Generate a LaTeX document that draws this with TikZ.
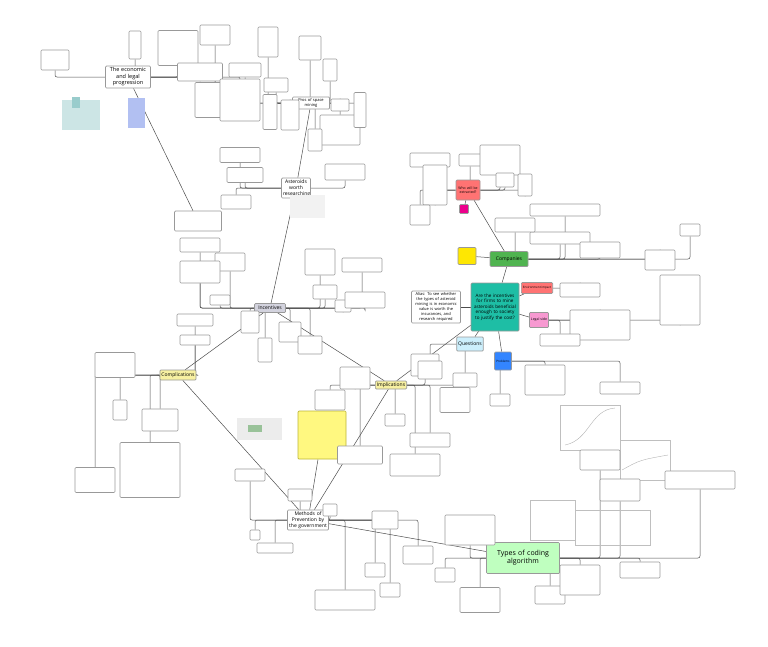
\documentclass[tikz,border=0pt]{standalone}
\usepackage{fontspec}
\setmainfont{Open Sans}
\pgfdeclarelayer{bg}\pgfsetlayers{bg,main}
\begin{document}
\begin{tikzpicture}[x=1pt,y=-1pt,
 box/.style={draw=gray!80,line width=0.6pt,fill=white,rounded corners=1pt,minimum width=#1},
 hub/.style={draw=gray!80,line width=0.7pt,rounded corners=1pt,align=center,inner sep=1.5pt,font=\fontsize{5}{6}\selectfont},
 con/.style={draw=gray!60!black,line width=0.5pt}]
\useasboundingbox (0,0) rectangle (768,646);
\hyphenpenalty=10000
% hubs
\node[hub,fill={rgb,255:red,30;green,190;blue,165},minimum width=48,minimum height=48,text width=45,inner sep=1pt,font=\fontsize{4.6}{5.6}\selectfont] (central) at (495,307) {Are the incentives for firms to mine asteroids beneficial enough to society to justify the cost?};
\node[hub,fill=white,text width=46,font=\fontsize{4}{5}\selectfont] (alias) at (436,307) {Alias: To see whether the types of asteroid mining is in economic value is worth the insurances, and research required};
\node[hub,fill={rgb,255:red,80;green,180;blue,80},minimum width=38,minimum height=15] (comp) at (509,259) {Companies};
\node[hub,fill=yellow!90!orange,minimum width=18,minimum height=17] (sticky) at (467,256) {};
\node[hub,fill=red!55,minimum width=23,minimum height=20,text width=21,font=\fontsize{3.5}{4}\selectfont] (who) at (468,190) {Who will be extracted?};
\node[hub,fill=magenta,minimum width=9,minimum height=9] (mag) at (464,209) {};
\node[hub,fill=red!55,minimum width=21,minimum height=11,font=\fontsize{3}{4}\selectfont] (env) at (537,288) {Environment impact};
\node[hub,fill=magenta!40,minimum width=18,minimum height=15,font=\fontsize{3.5}{4}\selectfont] (legal) at (539,320) {Legal side};
\node[hub,fill=cyan!20,minimum width=24,minimum height=14] (quest) at (470,344) {Questions};
\node[hub,fill=blue!60!cyan!80,minimum width=17,minimum height=18,font=\fontsize{3}{4}\selectfont] (prob) at (503,361) {Problems};
\node[hub,fill=green!25,minimum width=73,minimum height=31,text width=60,font=\fontsize{7}{8}\selectfont] (types) at (523,558) {Types of coding algorithm};
\node[hub,fill=white,minimum width=40,minimum height=16,text width=38] (meth) at (308,520) {Methods of Prevention by the government};
\node[hub,fill=brown!30!yellow!40,minimum width=28,minimum height=8] (impl) at (391,385) {Implications};
\node[hub,fill=brown!30!yellow!40,minimum width=36,minimum height=10] (compl) at (178,375) {Complications};
\node[hub,fill=blue!15!gray!30,minimum width=31,minimum height=9] (inc) at (270,308) {Incentives};
\node[hub,fill=white,minimum width=43,minimum height=22,text width=42,font=\fontsize{5.5}{6.5}\selectfont] (econ) at (128,77) {The economic and legal progression};
\node[hub,fill=white,minimum width=27,minimum height=18,text width=26] (aster) at (296,188) {Asteroids worth researching};
\node[hub,fill=white,minimum width=36,minimum height=12,text width=34,font=\fontsize{4}{5}\selectfont] (pros) at (311,103) {Pros of space mining};
\node[hub,fill=white,minimum width=47,minimum height=20] (nat) at (198,221) {};
\node[hub,fill=yellow!50,draw=yellow!70!black,minimum width=48,minimum height=48] (st2) at (322,435) {};
% images
\fill[teal!40,opacity=0.5] (62,100) rectangle (100,130);
\fill[teal!40] (72,97) rectangle (80,108);
\fill[teal!35!blue!30] (128,98) rectangle (145,128);
\fill[gray!15] (237,418) rectangle (282,440);
\fill[green!40!black!40] (248,425) rectangle (262,432);
\fill[gray!10] (290,195) rectangle (325,218);
\draw[gray!50] (560,405) rectangle (620,450) (620,440) rectangle (670,480) (530,500) rectangle (575,540) (575,510) rectangle (650,545);
\draw[gray!60] (565,445) .. controls (590,440) and (590,410) .. (615,408);
\draw[gray!60] (622,470) .. controls (640,460) .. (668,455);
% connectors hub
\begin{pgfonlayer}{bg}
\foreach \a/\b in {central/alias,central/comp,central/env,central/legal,central/quest,central/prob,comp/sticky,comp/who,who/mag,central/impl,impl/meth,impl/inc,inc/compl,inc/aster,aster/pros,econ/nat,meth/types,meth/st2,compl/meth}
 \draw[con] (\a) -- (\b);
\end{pgfonlayer}
% small boxes: x,y,w,h,parent
\foreach \x/\y/\w/\h/\p in {
135/45/12/28/econ,178/48/40/35/econ,200/72/45/18/econ,215/100/40/35/econ,240/100/40/42/econ,55/60/28/20/econ,
215/35/30/20/pros,268/42/20/30/pros,310/48/22/24/pros,245/70/32/14/pros,276/85/24/14/pros,330/70/14/22/pros,340/105/18/12/pros,
270/112/14/35/pros,290/115/18/30/pros,340/130/40/30/pros,315/140/14/22/pros,360/110/12/35/pros,
240/155/40/15/aster,245/175/36/15/aster,345/172/40/16/aster,236/202/30/14/aster,
200/245/40/14/inc,230/262/30/18/inc,200/272/40/22/inc,320/262/30/26/inc,362/265/40/14/inc,325/292/24/14/inc,
343/306/16/12/inc,365/300/40/16/inc,250/322/18/22/inc,290/332/22/20/inc,265/350/14/24/inc,310/345/24/18/inc,
220/300/20/10/inc,195/320/36/12/compl,195/340/30/10/compl,115/365/40/25/compl,160/420/36/22/compl,120/410/14/20/compl,
95/480/40/25/compl,150/470/60/55/compl,250/475/30/12/meth,300/495/24/12/meth,330/510/14/12/meth,255/535/10/10/meth,
275/548/36/10/meth,385/520/26/18/meth,375/570/20/14/meth,418/555/30/18/meth,345/600/60/20/meth,390/590/20/14/meth,
330/400/30/20/impl,355/378/30/22/impl,395/420/20/12/impl,430/440/40/14/impl,415/465/50/22/impl,455/400/30/25/impl,
425/365/28/22/impl,360/455/45/18/impl,
430/160/40/14/who,435/185/24/40/who,470/160/22/12/who,500/160/40/30/who,505/180/18/14/who,525/185/14/22/who,420/215/20/20/who,
565/210/70/12/comp,560/238/60/12/comp,515/225/40/14/comp,600/250/40/16/comp,
580/290/40/14/env,600/325/60/30/legal,560/340/40/12/legal,545/380/40/30/prob,620/388/40/12/prob,500/400/20/12/prob,
465/380/24/14/quest,430/370/24/18/quest,
470/530/50/30/types,445/575/20/14/types,480/600/40/25/types,550/595/30/18/types,580/580/40/30/types,640/570/40/16/types,
620/490/40/22/types,700/480/70/18/types,600/460/40/20/types,680/300/40/50/legal,660/260/30/20/comp,690/230/20/12/comp}
{ \node[box=\w,minimum height=\h] (s) at (\x,\y) {};
  \begin{pgfonlayer}{bg}\draw[con,rounded corners=2pt] (s) |- (\p);\end{pgfonlayer} }
\end{tikzpicture}
\end{document}
